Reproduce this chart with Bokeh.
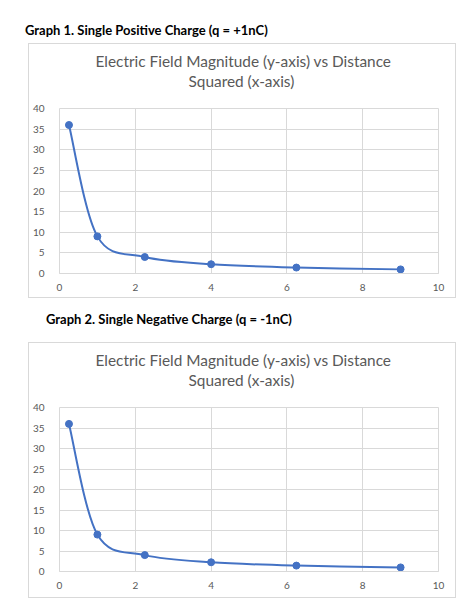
import numpy as np

from bokeh.embed import file_html
from bokeh.layouts import column
from bokeh.models import ColumnDataSource, Div, Range1d, SingleIntervalTicker, Title
from bokeh.plotting import figure
from bokeh.resources import INLINE

# Data (distance squared vs field magnitude)
dist_sq = [0.25, 1, 2.25, 4, 6.25, 9]
field_pos = [36, 9, 4, 2.25, 1.44, 1]
field_neg = [36, 9, 4, 2.25, 1.44, 1]

headings = ["Graph 1. Single Positive Charge (q = +1nC)",
            "Graph 2. Single Negative Charge (q = -1nC)"]
chart_title = ["Electric Field Magnitude (y-axis) vs Distance", "Squared (x-axis)"]

BLUE = "#4472C4"
GRID = "#d9d9d9"
TEXT = "#595959"
FONT = "Lato"


def smooth_source(xs, ys):
    # Catmull-Rom style control points, like Excel's "smoothed line"
    x = np.array(xs, dtype=float)
    y = np.array(ys, dtype=float)
    xp = np.concatenate([[x[0]], x, [x[-1]]])
    yp = np.concatenate([[y[0]], y, [y[-1]]])
    n = len(x) - 1
    d = dict(x0=[], y0=[], x1=[], y1=[], cx0=[], cy0=[], cx1=[], cy1=[])
    for i in range(n):
        p0 = (xp[i], yp[i]); p1 = (xp[i + 1], yp[i + 1])
        p2 = (xp[i + 2], yp[i + 2]); p3 = (xp[i + 3], yp[i + 3])
        d["x0"].append(p1[0]); d["y0"].append(p1[1])
        d["x1"].append(p2[0]); d["y1"].append(p2[1])
        d["cx0"].append(p1[0] + (p2[0] - p0[0]) / 6)
        d["cy0"].append(p1[1] + (p2[1] - p0[1]) / 6)
        d["cx1"].append(p2[0] - (p3[0] - p1[0]) / 6)
        d["cy1"].append(p2[1] - (p3[1] - p1[1]) / 6)
    return ColumnDataSource(d)


def title_line(txt, offset):
    return Title(text=txt, align="left", offset=offset, text_font=FONT,
                 text_font_size="15.4px", text_font_style="normal",
                 text_color=TEXT, standoff=0)


def make_chart(xs, ys, height, bottom):
    p = figure(width=428, height=height, output_backend="svg", toolbar_location=None,
               x_range=Range1d(0, 10), y_range=Range1d(0, 40),
               min_border_left=27, min_border_right=19,
               min_border_top=64, min_border_bottom=bottom,
               outline_line_color=GRID,
               styles={"border": "1px solid " + GRID})

    # spacer between plot area and the two title lines
    p.add_layout(Title(text=" ", text_font_size="1px", standoff=16), "above")
    p.add_layout(title_line(chart_title[1], 129), "above")
    p.add_layout(title_line(chart_title[0], 36), "above")

    p.xaxis.ticker = SingleIntervalTicker(interval=2)
    p.yaxis.ticker = SingleIntervalTicker(interval=5)
    for ax in (p.xaxis, p.yaxis):
        ax.major_tick_line_color = None
        ax.minor_tick_line_color = None
        ax.major_label_text_font = FONT
        ax.major_label_text_font_size = "10px"
        ax.major_label_text_color = TEXT
    p.xaxis.axis_line_color = GRID
    p.yaxis.axis_line_color = None
    p.xaxis.major_label_standoff = 4
    p.yaxis.major_label_standoff = 9

    p.grid.grid_line_color = GRID
    p.xgrid.ticker = SingleIntervalTicker(interval=2)
    p.ygrid.ticker = SingleIntervalTicker(interval=5)

    p.bezier(x0="x0", y0="y0", x1="x1", y1="y1", cx0="cx0", cy0="cy0",
             cx1="cx1", cy1="cy1", source=smooth_source(xs, ys),
             line_color=BLUE, line_width=2)
    p.scatter(xs, ys, size=7, color=BLUE)
    return p


def heading(txt, top, left, height):
    return Div(text=txt, width=320, height=height, margin=(top, 0, 0, left),
               styles={"font-family": FONT, "font-weight": "bold",
                       "font-size": "13px", "color": "#000000"})


p1 = make_chart(dist_sq, field_pos, 255, 26)
p2 = make_chart(dist_sq, field_neg, 256, 28)
p1.margin = (0, 0, 0, 28)
p2.margin = (0, 0, 0, 28)

page = column(heading(headings[0], 21, 25, 22), p1,
              heading(headings[1], 12, 46, 32), p2, spacing=0)

open("out.html", "w").write(file_html(page, INLINE))
